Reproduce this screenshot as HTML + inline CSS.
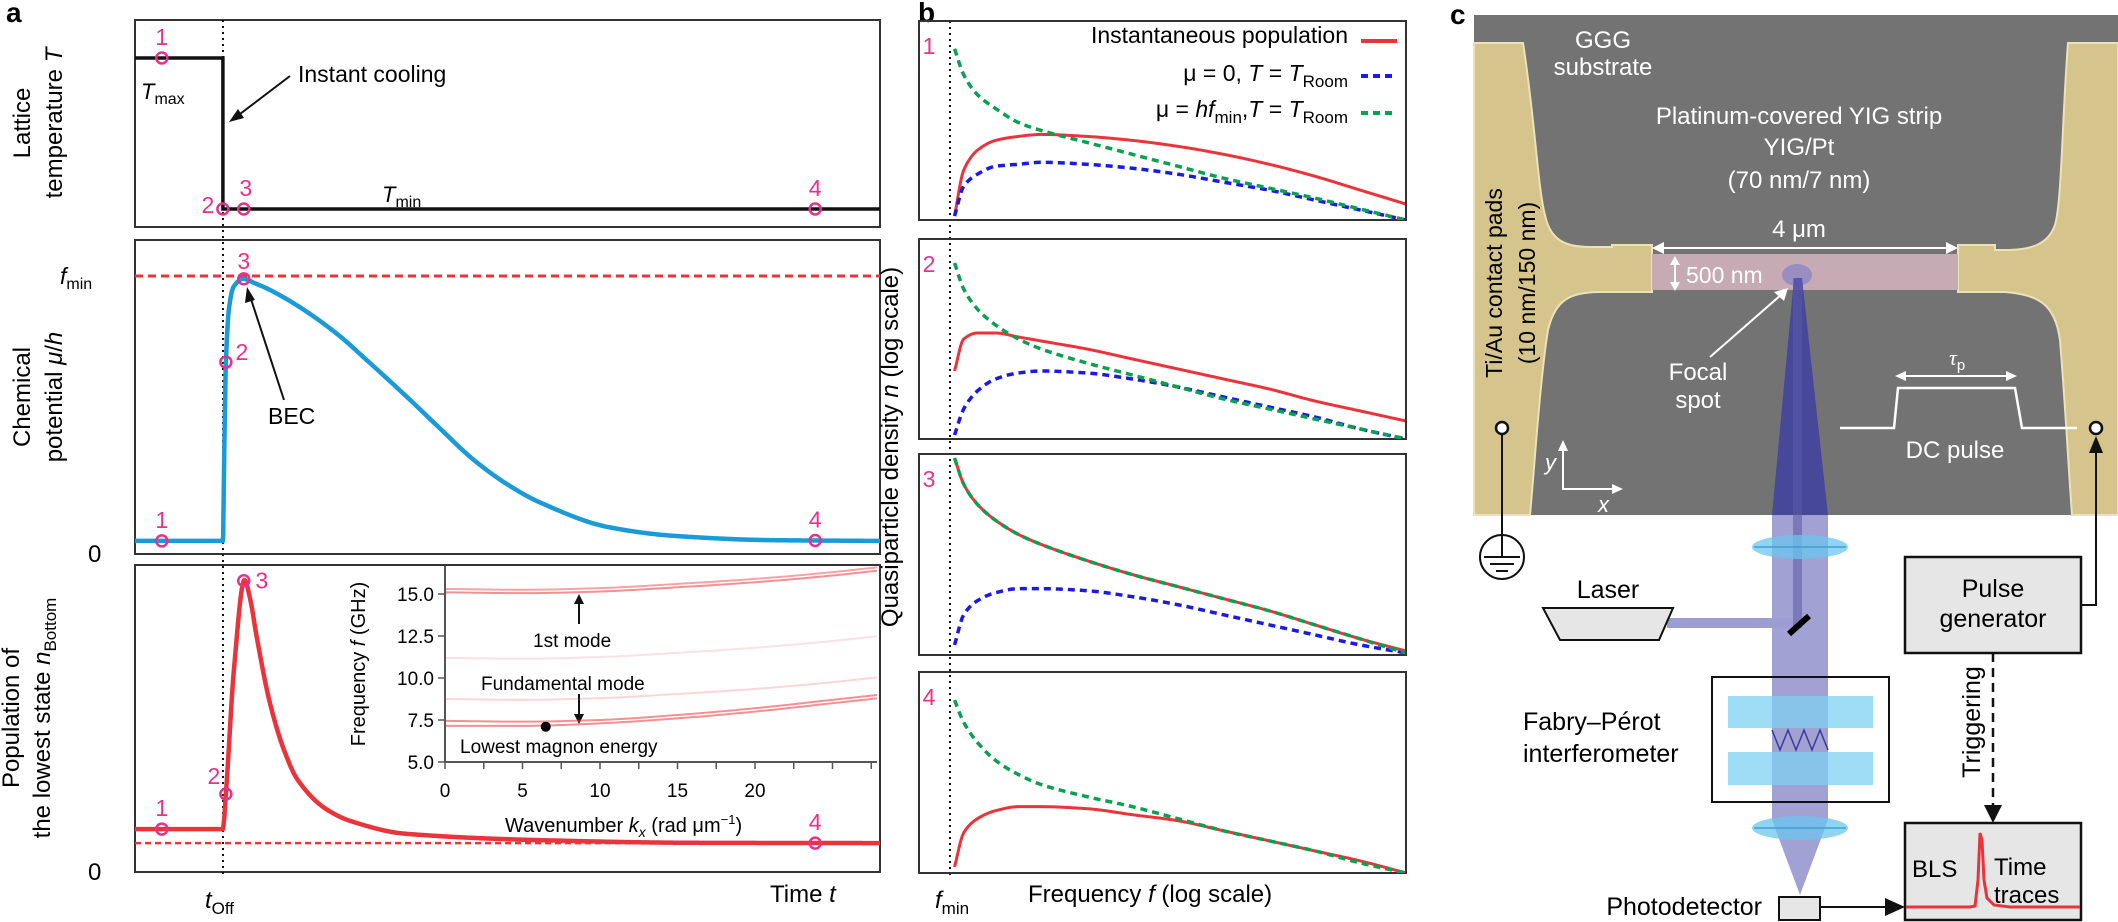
<!DOCTYPE html>
<html><head><meta charset="utf-8"><style>
html,body{margin:0;padding:0;background:#fff;}
svg{display:block;font-family:"Liberation Sans",sans-serif;}
</style></head><body>
<svg id="fig" width="2118" height="922" viewBox="0 0 2118 922">
<text x="6" y="22" font-size="28" font-weight="bold">a</text>
<text x="918" y="22" font-size="28" font-weight="bold">b</text>
<text x="1450" y="24" font-size="28" font-weight="bold">c</text>

<g id="pa">
<rect x="135" y="20" width="745" height="207" fill="none" stroke="#333" stroke-width="2"/>
<rect x="135" y="240" width="745" height="314" fill="none" stroke="#333" stroke-width="2"/>
<rect x="135" y="565" width="745" height="307" fill="none" stroke="#333" stroke-width="2"/>
<line x1="223" y1="20" x2="223" y2="876" stroke="#111" stroke-width="2" stroke-dasharray="2 4"/>
<text transform="translate(30,123) rotate(-90)" font-size="24" text-anchor="middle">Lattice</text>
<text transform="translate(62,123) rotate(-90)" font-size="24" text-anchor="middle">temperature <tspan font-style="italic">T</tspan></text>
<text transform="translate(30,397) rotate(-90)" font-size="24" text-anchor="middle">Chemical</text>
<text transform="translate(62,397) rotate(-90)" font-size="24" text-anchor="middle">potential <tspan font-style="italic">μ</tspan>/<tspan font-style="italic">h</tspan></text>
<text transform="translate(19,718) rotate(-90)" font-size="24" text-anchor="middle">Population of</text>
<text transform="translate(50,718) rotate(-90)" font-size="24" text-anchor="middle">the lowest state <tspan font-style="italic">n</tspan><tspan font-size="17" dy="6">Bottom</tspan></text>
<text x="141" y="99" font-size="22"><tspan font-style="italic">T</tspan><tspan font-size="16" dy="5">max</tspan></text>
<text x="382" y="202" font-size="22"><tspan font-style="italic">T</tspan><tspan font-size="16" dy="5">min</tspan></text>
<text x="298" y="82" font-size="23">Instant cooling</text>
<line x1="290" y1="76" x2="236" y2="117" stroke="#111" stroke-width="2"/>
<polygon points="229,122 238,109 244,118" fill="#111"/>
<text x="60" y="284" font-size="23"><tspan font-style="italic">f</tspan><tspan font-size="16" dy="5">min</tspan></text>
<text x="88" y="562" font-size="24">0</text>
<text x="88" y="880" font-size="24">0</text>
<text x="268" y="424" font-size="23">BEC</text>
<line x1="284" y1="400" x2="250" y2="296" stroke="#111" stroke-width="2"/>
<polygon points="247,287 245,303 255,300" fill="#111"/>
<text x="205" y="908" font-size="24"><tspan font-style="italic">t</tspan><tspan font-size="17" dy="6">Off</tspan></text>
<text x="770" y="902" font-size="24">Time <tspan font-style="italic">t</tspan></text>
<g id="inset">
<rect x="445" y="566" width="432" height="196" fill="#fff"/>
<line x1="445" y1="566" x2="445" y2="762" stroke="#555" stroke-width="2"/>
<line x1="445" y1="762" x2="877" y2="762" stroke="#555" stroke-width="2"/>
<text transform="translate(365,664) rotate(-90)" font-size="20" text-anchor="middle">Frequency <tspan font-style="italic">f</tspan> (GHz)</text>
<text x="505" y="832" font-size="20">Wavenumber <tspan font-style="italic">k</tspan><tspan font-style="italic" font-size="14" dy="5">x</tspan><tspan dy="-5"> (rad μm</tspan><tspan font-size="13" dy="-8">−1</tspan><tspan dy="8">)</tspan></text>
<text x="533" y="647" font-size="19">1st mode</text>
<text x="481" y="690" font-size="19">Fundamental mode</text>
<text x="460" y="753" font-size="19">Lowest magnon energy</text>
<line x1="579" y1="624" x2="579" y2="602" stroke="#111" stroke-width="2"/>
<polygon points="579,594 574,604 584,604" fill="#111"/>
<line x1="579" y1="694" x2="579" y2="716" stroke="#111" stroke-width="2"/>
<polygon points="579,724 574,714 584,714" fill="#111"/>
</g>
</g>

<g id="pb">
<text transform="translate(898,447) rotate(-90)" font-size="24" text-anchor="middle">Quasiparticle density <tspan font-style="italic">n</tspan> (log scale)</text>
<text x="935" y="908" font-size="24"><tspan font-style="italic">f</tspan><tspan font-size="17" dy="6">min</tspan></text>
<text x="1028" y="902" font-size="24">Frequency <tspan font-style="italic">f</tspan> (log scale)</text>
<line x1="950" y1="21" x2="950" y2="876" stroke="#111" stroke-width="2" stroke-dasharray="2 4"/>
<text x="1348" y="43" font-size="23" text-anchor="end">Instantaneous population</text>
<line x1="1361" y1="41" x2="1397" y2="41" stroke="#e8343a" stroke-width="4"/>
<text x="1348" y="81" font-size="23" text-anchor="end">μ = 0, <tspan font-style="italic">T</tspan> = <tspan font-style="italic">T</tspan><tspan font-size="17" dy="6">Room</tspan></text>
<line x1="1361" y1="76" x2="1397" y2="76" stroke="#1a1ae6" stroke-width="4" stroke-dasharray="7 5"/>
<text x="1348" y="117" font-size="23" text-anchor="end">μ = <tspan font-style="italic">hf</tspan><tspan font-size="17" dy="6">min</tspan><tspan dy="-6">,</tspan><tspan font-style="italic">T</tspan> = <tspan font-style="italic">T</tspan><tspan font-size="17" dy="6">Room</tspan></text>
<line x1="1361" y1="113" x2="1397" y2="113" stroke="#0aa050" stroke-width="4" stroke-dasharray="7 5"/>
</g>

<g id="pc">
<rect x="1474" y="15" width="644" height="500" fill="#737373"/>
<path d="M1474,43 L1523,43 C1535,120 1538,190 1545,215 C1550,240 1565,247 1590,247 L1612,247 L1612,245 L1652,245 L1652,292 L1600,292 C1570,292 1555,300 1548,330 C1540,380 1535,460 1530,515 L1474,515 Z" fill="#d5c48c" stroke="#ece2b8" stroke-width="2"/>
<path d="M2118,43 L2068,43 C2062,120 2062,200 2055,225 C2048,245 2030,250 2005,250 L1995,250 L1995,245 L1958,245 L1958,292 L2005,292 C2040,295 2055,305 2060,340 C2065,400 2068,460 2072,515 L2118,515 Z" fill="#d5c48c" stroke="#ece2b8" stroke-width="2"/>
<rect x="1652" y="254" width="306" height="36" fill="#c6aab4"/>
<text x="1603" y="48" font-size="24" fill="#fff" text-anchor="middle">GGG</text>
<text x="1603" y="75" font-size="24" fill="#fff" text-anchor="middle">substrate</text>
<text x="1799" y="124" font-size="24" fill="#fff" text-anchor="middle">Platinum-covered YIG strip</text>
<text x="1799" y="155" font-size="24" fill="#fff" text-anchor="middle">YIG/Pt</text>
<text x="1799" y="188" font-size="24" fill="#fff" text-anchor="middle">(70 nm/7 nm)</text>
<text x="1799" y="237" font-size="24" fill="#fff" text-anchor="middle">4 μm</text>
<line x1="1660" y1="248" x2="1950" y2="248" stroke="#fff" stroke-width="2"/>
<polygon points="1652,248 1664,242 1664,254" fill="#fff"/>
<polygon points="1958,248 1946,242 1946,254" fill="#fff"/>
<line x1="1675" y1="262" x2="1675" y2="284" stroke="#fff" stroke-width="2"/>
<polygon points="1675,256 1670,265 1680,265" fill="#fff"/>
<polygon points="1675,291 1670,282 1680,282" fill="#fff"/>
<text x="1686" y="283" font-size="23" fill="#fff">500 nm</text>
<ellipse cx="1797" cy="275" rx="15" ry="11" fill="#8e86c6" opacity="0.8"/>
<line x1="1710" y1="357" x2="1782" y2="294" stroke="#fff" stroke-width="2"/>
<polygon points="1788,288 1774,292 1784,301" fill="#fff"/>
<text x="1698" y="380" font-size="24" fill="#fff" text-anchor="middle">Focal</text>
<text x="1698" y="408" font-size="24" fill="#fff" text-anchor="middle">spot</text>
<text transform="translate(1502,283) rotate(-90)" font-size="23" text-anchor="middle">Ti/Au contact pads</text>
<text transform="translate(1535,283) rotate(-90)" font-size="23" text-anchor="middle">(10 nm/150 nm)</text>
<text x="1949" y="365" font-size="22" font-style="italic" fill="#fff" font-family="Liberation Serif,serif">τ<tspan font-size="15" dy="5" font-style="normal" font-family="Liberation Sans,sans-serif">p</tspan></text>
<line x1="1902" y1="376" x2="2010" y2="376" stroke="#fff" stroke-width="2"/>
<polygon points="1895,376 1906,371 1906,381" fill="#fff"/>
<polygon points="2017,376 2006,371 2006,381" fill="#fff"/>
<polyline points="1840,428 1894,428 1898,388 2015,388 2022,428 2077,428" fill="none" stroke="#fff" stroke-width="2.5"/>
<text x="1955" y="458" font-size="24" fill="#fff" text-anchor="middle">DC pulse</text>
<polyline points="1563,447 1563,489 1615,489" fill="none" stroke="#fff" stroke-width="2"/>
<polygon points="1563,440 1558,451 1568,451" fill="#fff"/>
<polygon points="1623,489 1612,484 1612,494" fill="#fff"/>
<text x="1545" y="470" font-size="22" font-style="italic" fill="#fff">y</text>
<text x="1598" y="512" font-size="22" font-style="italic" fill="#fff">x</text>
<polygon points="1794,278 1802,278 1828,515 1772,515" fill="#3a3aa8" opacity="0.75"/>
<polygon points="1772,515 1828,515 1828,820 1800,895 1772,820" fill="#a2a1d3"/>
<rect x="1667" y="618" width="130" height="10" fill="#9d9dd3"/>
<rect x="1793" y="278" width="9" height="350" fill="#5a5aa8" opacity="0.55"/>
<line x1="1789" y1="634" x2="1809" y2="616" stroke="#000" stroke-width="6"/>
<ellipse cx="1800" cy="547" rx="48" ry="12" fill="#6cc6ee" opacity="0.75"/>
<line x1="1754" y1="547" x2="1846" y2="547" stroke="#3aa0d8" stroke-width="1.5"/>
<ellipse cx="1800" cy="828" rx="48" ry="12" fill="#6cc6ee" opacity="0.75"/>
<line x1="1754" y1="828" x2="1846" y2="828" stroke="#3aa0d8" stroke-width="1.5"/>
<polygon points="1543,608 1673,608 1659,640 1560,640" fill="#e6e6e6" stroke="#111" stroke-width="2"/>
<text x="1608" y="598" font-size="25" text-anchor="middle">Laser</text>
<rect x="1712" y="677" width="177" height="125" fill="none" stroke="#111" stroke-width="2"/>
<rect x="1728" y="696" width="145" height="32" fill="#7fd0f2" opacity="0.75"/>
<rect x="1728" y="752" width="145" height="33" fill="#7fd0f2" opacity="0.75"/>
<polyline points="1772,730 1780,750 1788,730 1796,750 1804,730 1812,750 1820,730 1828,750" fill="none" stroke="#3a3aa0" stroke-width="1.5"/>
<text x="1523" y="730" font-size="25">Fabry–Pérot</text>
<text x="1523" y="762" font-size="25">interferometer</text>
<rect x="1779" y="897" width="41" height="23" fill="#e6e6e6" stroke="#111" stroke-width="2"/>
<text x="1762" y="915" font-size="25" text-anchor="end">Photodetector</text>
<line x1="1820" y1="907" x2="1888" y2="907" stroke="#111" stroke-width="2"/>
<polygon points="1905,907 1885,898 1885,916" fill="#111"/>
<rect x="1905" y="557" width="176" height="96" fill="#e6e6e6" stroke="#111" stroke-width="2.5"/>
<text x="1993" y="597" font-size="25" text-anchor="middle">Pulse</text>
<text x="1993" y="627" font-size="25" text-anchor="middle">generator</text>
<polyline points="2081,605 2096,605 2096,452" fill="none" stroke="#111" stroke-width="2"/>
<polygon points="2096,436 2089,453 2103,453" fill="#111"/>
<circle cx="2096" cy="428" r="6" fill="#fff" stroke="#111" stroke-width="2.5"/>
<line x1="1502" y1="434" x2="1502" y2="535" stroke="#111" stroke-width="2"/>
<circle cx="1502" cy="428" r="6" fill="#fff" stroke="#111" stroke-width="2.5"/>
<ellipse cx="1502" cy="557" rx="22" ry="22" fill="none" stroke="#111" stroke-width="2"/>
<line x1="1484" y1="557" x2="1520" y2="557" stroke="#111" stroke-width="2"/>
<line x1="1490" y1="564" x2="1514" y2="564" stroke="#111" stroke-width="2"/>
<line x1="1496" y1="571" x2="1508" y2="571" stroke="#111" stroke-width="2"/>
<line x1="1502" y1="535" x2="1502" y2="557" stroke="#111" stroke-width="2"/>
<line x1="1993" y1="653" x2="1993" y2="808" stroke="#111" stroke-width="2.5" stroke-dasharray="9 6"/>
<polygon points="1993,823 1984,805 2002,805" fill="#111"/>
<text transform="translate(1980,722) rotate(-90)" font-size="25" text-anchor="middle">Triggering</text>
<rect x="1905" y="823" width="176" height="97" fill="#e6e6e6" stroke="#111" stroke-width="2.5"/>
<text x="1912" y="877" font-size="24">BLS</text>
<text x="1994" y="875" font-size="24">Time</text>
<text x="1994" y="903" font-size="24">traces</text>
<path d="M1906,907 L1970,907 L1975,906 L1978,880 L1980,833 L1982,840 L1984,880 L1987,898 L1994,905 L2010,907 L2080,907" fill="none" stroke="#e8343a" stroke-width="3"/>
</g>

<g id="marks"></g>
</svg>
<script>
// ---------- Panel a data ----------
const latticeTime = [0, 11.8, 11.8, 100];
const latticeTemp = [1, 1, 0, 0];
const muTime = [0, 11.8, 12.0, 12.2, 12.6, 13.2, 14.5, 16, 18.1, 22, 27.2, 31, 36.3, 41, 45.4, 50, 54.4, 63.5, 72.5, 85, 100];
const muValue = [0.047, 0.047, 0.4, 0.69, 0.88, 0.96, 0.99, 0.975, 0.95, 0.89, 0.79, 0.7, 0.57, 0.45, 0.34, 0.25, 0.185, 0.097, 0.065, 0.05, 0.047];
const nTime = [0, 11.8, 12.2, 13.3, 14.7, 15.5, 16.3, 18.1, 20, 21.8, 25.4, 29, 36.3, 54.4, 75, 100];
const nValue = [0.147, 0.147, 0.267, 0.7, 1.0, 0.93, 0.81, 0.58, 0.418, 0.317, 0.22, 0.174, 0.131, 0.109, 0.1, 0.099];
const nEquilibrium = 0.099;
const fMinLevel = 1;
const stateLabels = ['1', '2', '3', '4'];
const stateTimes = [3.6, 12.2, 14.6, 91.3];
const kxSamples = [0, 5, 10, 15, 20, 25, 28];
const fundModeA = [7.15, 7.15, 7.3, 7.6, 8.0, 8.5, 8.8];
const fundModeB = [7.45, 7.4, 7.5, 7.8, 8.2, 8.7, 9.0];
const faintModeA = [8.75, 8.7, 8.8, 9.05, 9.35, 9.75, 10.05];
const faintModeB = [11.2, 11.15, 11.25, 11.5, 11.8, 12.2, 12.5];
const firstModeA = [15.1, 15.05, 15.15, 15.4, 15.7, 16.1, 16.4];
const firstModeB = [15.3, 15.25, 15.35, 15.6, 15.9, 16.3, 16.6];
const insetYTicks = [5.0, 7.5, 10.0, 12.5, 15.0];
const insetYTickLabels = ['5.0', '7.5', '10.0', '12.5', '15.0'];
const insetXTicks = [0, 5, 10, 15, 20];
const insetXTickLabels = ['0', '5', '10', '15', '20'];
const lowestPoint = [6.5, 7.1];
// ---------- Panel b data ----------
const freqU = [0.01, 0.03, 0.06, 0.1, 0.15, 0.2, 0.3, 0.4, 0.5, 0.6, 0.7, 0.8, 0.9, 1.0];
const b1Red = [0.02, 0.25, 0.35, 0.40, 0.42, 0.43, 0.42, 0.40, 0.37, 0.33, 0.28, 0.22, 0.15, 0.08];
const b1Blue = [0.02, 0.17, 0.23, 0.27, 0.28, 0.29, 0.28, 0.26, 0.23, 0.19, 0.15, 0.10, 0.05, 0.0];
const b1Green = [0.86, 0.73, 0.63, 0.56, 0.49, 0.45, 0.39, 0.33, 0.27, 0.21, 0.16, 0.11, 0.055, 0.0];
const b2Red = [0.34, 0.5, 0.53, 0.53, 0.51, 0.49, 0.45, 0.40, 0.35, 0.30, 0.25, 0.19, 0.14, 0.09];
const b2Blue = [0.02, 0.15, 0.24, 0.30, 0.33, 0.34, 0.33, 0.30, 0.26, 0.21, 0.16, 0.11, 0.05, 0.0];
const b2Green = [0.88, 0.75, 0.65, 0.57, 0.5, 0.45, 0.38, 0.32, 0.26, 0.2, 0.15, 0.1, 0.05, 0.0];
const b3Red = [0.98, 0.85, 0.75, 0.67, 0.6, 0.55, 0.47, 0.4, 0.34, 0.28, 0.22, 0.15, 0.08, 0.02];
const b3Blue = [0.05, 0.2, 0.27, 0.31, 0.33, 0.33, 0.32, 0.29, 0.25, 0.2, 0.15, 0.1, 0.05, 0.01];
const b3Green = [0.98, 0.85, 0.75, 0.67, 0.6, 0.55, 0.47, 0.4, 0.34, 0.28, 0.22, 0.15, 0.08, 0.01];
const b4Red = [0.03, 0.2, 0.27, 0.31, 0.33, 0.33, 0.32, 0.29, 0.26, 0.21, 0.16, 0.11, 0.06, 0.0];
const b4Green = [0.86, 0.75, 0.65, 0.56, 0.49, 0.44, 0.38, 0.33, 0.27, 0.21, 0.16, 0.11, 0.05, 0.0];
const subpanelLabels = ['1', '2', '3', '4'];

const NS = 'http://www.w3.org/2000/svg';
const root = document.getElementById('marks');
function mk(tag, attrs, parent) {
  const el = document.createElementNS(NS, tag);
  for (const k in attrs) el.setAttribute(k, attrs[k]);
  (parent || root).appendChild(el);
  return el;
}
function monotone(xs, ys) {
  const n = xs.length, d = [], m = new Array(n).fill(0);
  for (let i = 0; i < n - 1; i++) { const dx = xs[i+1] - xs[i]; d.push(dx === 0 ? 0 : (ys[i+1] - ys[i]) / dx); }
  m[0] = d[0]; m[n-1] = d[n-2];
  for (let i = 1; i < n - 1; i++) m[i] = (d[i-1] * d[i] <= 0) ? 0 : 2 / (1 / d[i-1] + 1 / d[i]);
  return function (x) {
    let i = 0;
    while (i < n - 2 && x > xs[i+1]) i++;
    const h = xs[i+1] - xs[i];
    if (h === 0) return ys[i+1];
    const t = (x - xs[i]) / h, t2 = t*t, t3 = t2*t;
    return (2*t3 - 3*t2 + 1)*ys[i] + (t3 - 2*t2 + t)*h*m[i] + (-2*t3 + 3*t2)*ys[i+1] + (t3 - t2)*h*m[i+1];
  };
}
function curvePath(xs, ys, sx, sy, steps) {
  const f = monotone(xs, ys);
  const pts = [];
  const all = [];
  for (let i = 0; i <= steps; i++) all.push(xs[0] + (xs[xs.length-1] - xs[0]) * i / steps);
  xs.forEach(x => all.push(x));
  all.sort((a, b) => a - b);
  all.forEach(x => pts.push(sx(x).toFixed(2) + ',' + sy(f(x)).toFixed(2)));
  return 'M' + pts.join(' L');
}

const xT = t => 135 + t * 7.45;
const yLat = v => 209 - v * 151;
const yMu = v => 554 - v * 278;
const yN = v => 872 - v * 292;

let el;
el = mk('polyline', {points: latticeTime.map((t, i) => xT(t) + ',' + yLat(latticeTemp[i])).join(' '), fill: 'none', stroke: '#111', 'stroke-width': 3.5});


el = mk('line', {x1: 135, x2: 880, y1: yMu(fMinLevel), y2: yMu(fMinLevel), stroke: '#e8343a', 'stroke-width': 3, 'stroke-dasharray': '8 5'});


const fMu = monotone(muTime, muValue);
el = mk('path', {d: curvePath(muTime, muValue, xT, yMu, 600), fill: 'none', stroke: '#1a9ad7', 'stroke-width': 4.5, 'stroke-linejoin': 'round'});


el = mk('line', {x1: 135, x2: 880, y1: yN(nEquilibrium), y2: yN(nEquilibrium), stroke: '#e8343a', 'stroke-width': 2.5, 'stroke-dasharray': '6 4'});


const fN = monotone(nTime, nValue);
el = mk('path', {d: curvePath(nTime, nValue, xT, yN, 600), fill: 'none', stroke: '#e8343a', 'stroke-width': 4.5, 'stroke-linejoin': 'round'});



const mag = '#e8318a';
function marker(x, y, label, lx, ly, name) {
  const c = mk('circle', {cx: x, cy: y, r: 5.5, fill: 'none', stroke: mag, 'stroke-width': 2.5});
  
  
  const t = mk('text', {x: lx, y: ly, 'font-size': 23, fill: mag, 'text-anchor': 'middle'});
  t.textContent = label;
  
  
}
const latVals = stateTimes.map(t => t < 11.8 ? 1 : 0);
marker(xT(stateTimes[0]), yLat(latVals[0]), stateLabels[0], xT(stateTimes[0]), yLat(latVals[0]) - 13, 'lattice-state-1');
marker(xT(stateTimes[1]) - 3, yLat(latVals[1]), stateLabels[1], xT(stateTimes[1]) - 18, yLat(latVals[1]) + 4, 'lattice-state-2');
marker(xT(stateTimes[2]), yLat(latVals[2]), stateLabels[2], xT(stateTimes[2]) + 2, yLat(latVals[2]) - 13, 'lattice-state-3');
marker(xT(stateTimes[3]), yLat(latVals[3]), stateLabels[3], xT(stateTimes[3]), yLat(latVals[3]) - 13, 'lattice-state-4');
marker(xT(stateTimes[0]), yMu(fMu(stateTimes[0])), stateLabels[0], xT(stateTimes[0]), yMu(fMu(stateTimes[0])) - 13, 'mu-state-1');
marker(xT(stateTimes[1]), yMu(fMu(stateTimes[1])), stateLabels[1], xT(stateTimes[1]) + 16, yMu(fMu(stateTimes[1])) - 2, 'mu-state-2');
marker(xT(stateTimes[2]), yMu(fMu(stateTimes[2])), stateLabels[2], xT(stateTimes[2]), yMu(fMu(stateTimes[2])) - 10, 'mu-state-3');
marker(xT(stateTimes[3]), yMu(fMu(stateTimes[3])), stateLabels[3], xT(stateTimes[3]), yMu(fMu(stateTimes[3])) - 13, 'mu-state-4');
marker(xT(stateTimes[0]), yN(fN(stateTimes[0])), stateLabels[0], xT(stateTimes[0]), yN(fN(stateTimes[0])) - 13, 'n-state-1');
marker(xT(stateTimes[1]), yN(fN(stateTimes[1])), stateLabels[1], xT(stateTimes[1]) - 12, yN(fN(stateTimes[1])) - 10, 'n-state-2');
marker(xT(stateTimes[2]), yN(fN(stateTimes[2])), stateLabels[2], xT(stateTimes[2]) + 18, yN(fN(stateTimes[2])) + 8, 'n-state-3');
marker(xT(stateTimes[3]), yN(nEquilibrium), stateLabels[3], xT(stateTimes[3]), yN(nEquilibrium) - 13, 'n-state-4');

const xK = k => 445 + k * 15.5;
const yF = f => 762 - (f - 5) * 16.8;
const clip = mk('clipPath', {id: 'insetClip'});
mk('rect', {x: 446, y: 566, width: 431, height: 195}, clip);
const modes = [[fundModeA, 0.55, 'fundamental-mode-a'], [fundModeB, 0.55, 'fundamental-mode-b'], [faintModeA, 0.2, 'faint-mode-a'], [faintModeB, 0.15, 'faint-mode-b'], [firstModeA, 0.55, 'first-mode-a'], [firstModeB, 0.45, 'first-mode-b']];
modes.forEach(m => {
  el = mk('path', {d: curvePath(kxSamples, m[0], xK, yF, 100), fill: 'none', stroke: '#e8343a', 'stroke-width': 2, opacity: m[1], 'clip-path': 'url(#insetClip)'});
  
  
});
el = mk('circle', {cx: xK(lowestPoint[0]), cy: yF(lowestPoint[1]), r: 5, fill: '#000'});


insetYTicks.forEach((v, i) => {
  el = mk('line', {x1: 438, x2: 445, y1: yF(v), y2: yF(v), stroke: '#555', 'stroke-width': 1.5});
  
  
  el = mk('text', {x: 434, y: yF(v) + 7, 'font-size': 19, 'text-anchor': 'end'});
  el.textContent = insetYTickLabels[i];
  
  
});
for (let k = 0; k <= 27.5; k += 2.5) {
  el = mk('line', {x1: xK(k), x2: xK(k), y1: 762, y2: 769, stroke: '#555', 'stroke-width': 1.5});
  
  
}
insetXTicks.forEach((v, i) => {
  el = mk('text', {x: xK(v), y: 797, 'font-size': 19, 'text-anchor': 'middle'});
  el.textContent = insetXTickLabels[i];
  
  
});

const boxTops = [21, 239, 454, 672];
const boxBots = [220, 439, 655, 873];
const xU = u => 950 + u * 456;
const series = [
  [[b1Red, '#e8343a', null, 'red'], [b1Blue, '#1a1ae6', '7 5', 'blue'], [b1Green, '#0aa050', '7 5', 'green']],
  [[b2Red, '#e8343a', null, 'red'], [b2Blue, '#1a1ae6', '7 5', 'blue'], [b2Green, '#0aa050', '7 5', 'green']],
  [[b3Blue, '#1a1ae6', '7 5', 'blue'], [b3Red, '#e8343a', null, 'red'], [b3Green, '#0aa050', '7 5', 'green']],
  [[b4Red, '#e8343a', null, 'red'], [b4Green, '#0aa050', '7 5', 'green']]
];
boxTops.forEach((top, i) => {
  const bot = boxBots[i];
  el = mk('rect', {x: 919, y: top, width: 487, height: bot - top, fill: 'none', stroke: '#333', 'stroke-width': 2});
  
  
  const cp = mk('clipPath', {id: 'bclip' + i});
  mk('rect', {x: 920, y: top + 1, width: 485, height: bot - top - 1}, cp);
  const yV = v => bot - v * (bot - top);
  series[i].forEach(s => {
    const attrs = {d: curvePath(freqU, s[0], xU, yV, 300), fill: 'none', stroke: s[1], 'stroke-width': s[2] ? 3.5 : 3, 'clip-path': 'url(#bclip' + i + ')'};
    if (s[2]) attrs['stroke-dasharray'] = s[2];
    el = mk('path', attrs);
    
    
  });
  el = mk('text', {x: 929, y: top + 33, 'font-size': 23, fill: mag, 'text-anchor': 'middle'});
  el.textContent = subpanelLabels[i];
  
  
});
</script>
</body></html>
